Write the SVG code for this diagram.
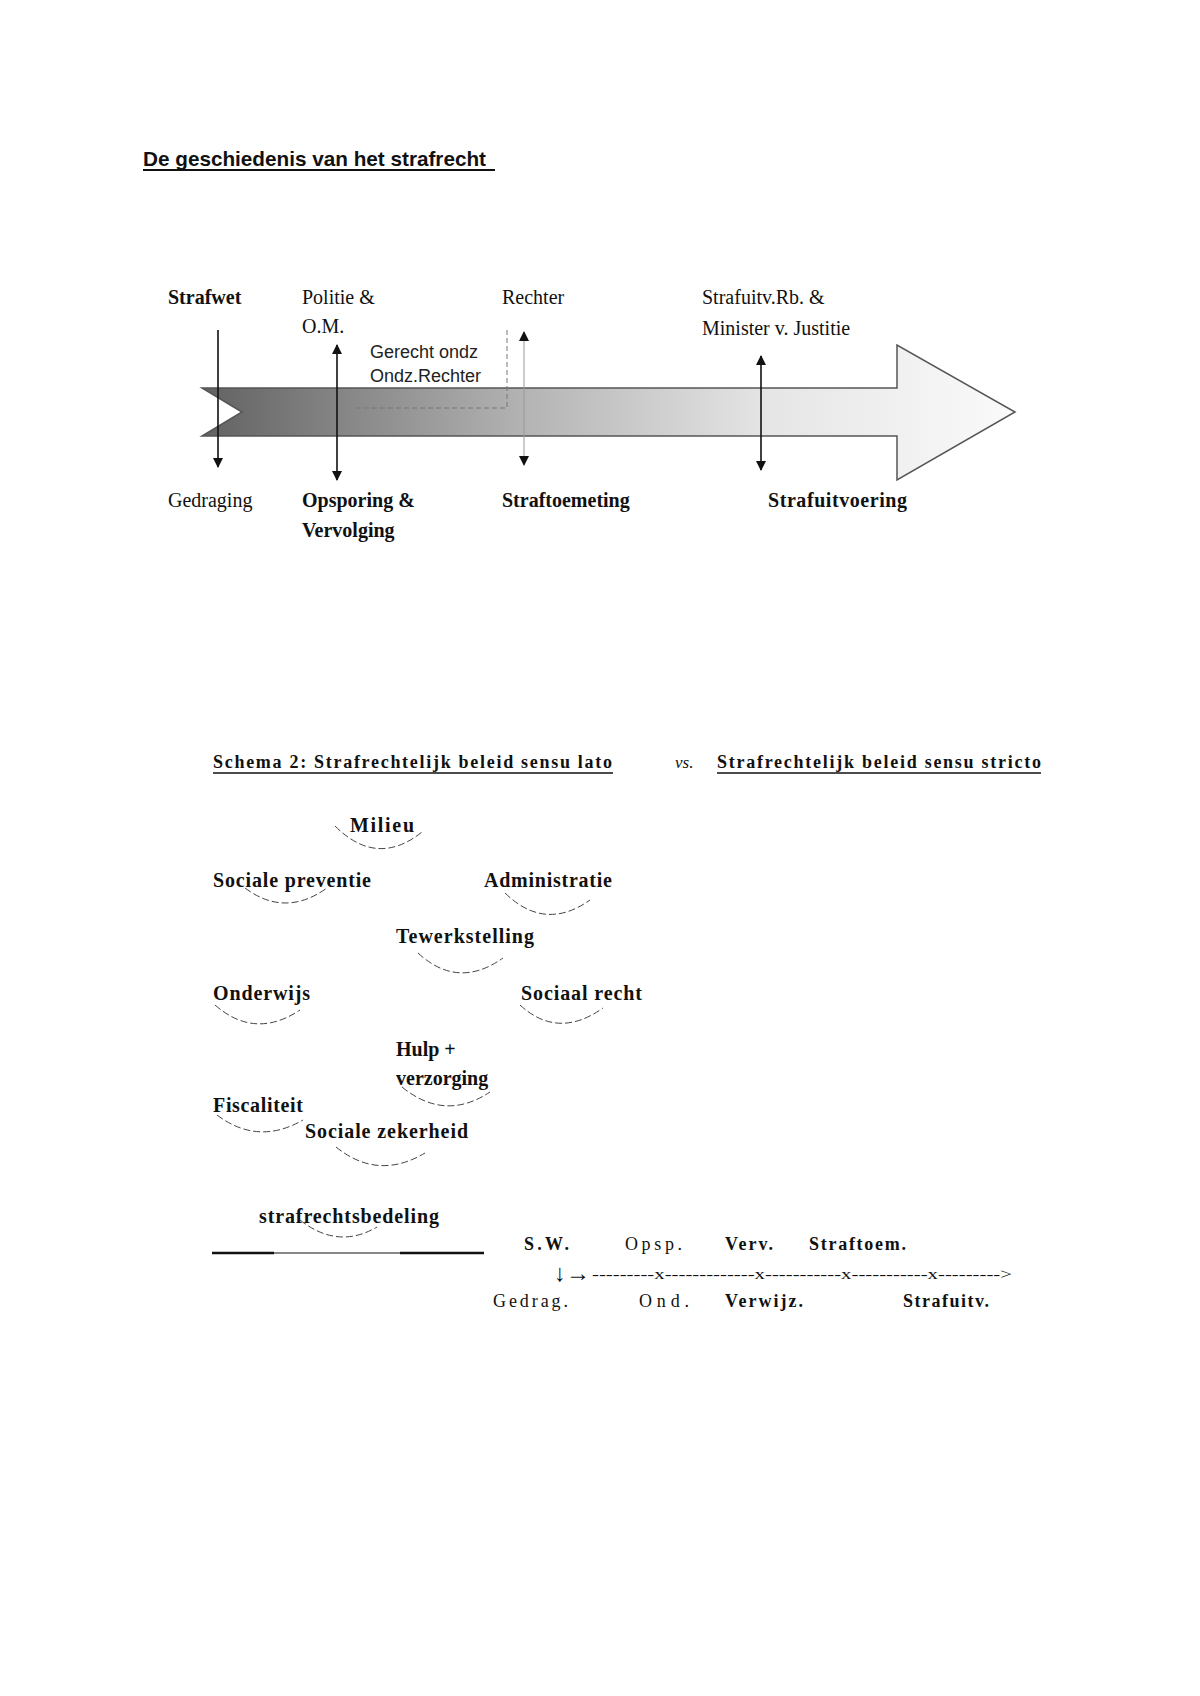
<svg xmlns="http://www.w3.org/2000/svg" width="1200" height="1696" viewBox="0 0 1200 1696">
<style>
.ser{font-family:"Liberation Serif","DejaVu Serif",serif;fill:#111;}
.b{font-weight:bold;}
.sans{font-family:"Liberation Sans",Arial,sans-serif;fill:#222;}
.arc{fill:none;stroke:#444;stroke-width:1;stroke-dasharray:7 3;}
.ln{stroke:#111;stroke-width:1.6;fill:none;}
</style>
<defs>
<linearGradient id="g" x1="202" y1="0" x2="1015" y2="0" gradientUnits="userSpaceOnUse">
<stop offset="0" stop-color="#626262"/>
<stop offset="0.4" stop-color="#b4b4b4"/>
<stop offset="0.7" stop-color="#e6e6e6"/>
<stop offset="1" stop-color="#fafafa"/>
</linearGradient>
<marker id="ah" viewBox="0 0 10 10" refX="9" refY="5" markerWidth="10" markerHeight="10" markerUnits="userSpaceOnUse" orient="auto-start-reverse">
<path d="M0,0 L10,5 L0,10 Z" fill="#111"/>
</marker>
</defs>
<rect width="1200" height="1696" fill="#fff"/>

<g id="title">
<text x="143" y="166" font-family="Liberation Sans,Arial,sans-serif" font-weight="bold" font-size="21" fill="#111" textLength="343" lengthAdjust="spacingAndGlyphs">De geschiedenis van het strafrecht</text>
<line x1="143" y1="170" x2="495" y2="170" stroke="#111" stroke-width="1.8"/>
</g>

<g id="big-arrow">
<path d="M202,388 L897,388 L897,345 L1015,412 L897,480 L897,436 L202,436 L242,412 Z" fill="url(#g)" stroke="#555" stroke-width="1.5"/>
</g>

<g id="connectors">
<line class="ln" x1="218" y1="330" x2="218" y2="467" marker-end="url(#ah)"/>
<line class="ln" x1="337" y1="345" x2="337" y2="480" marker-start="url(#ah)" marker-end="url(#ah)"/>
<line x1="524" y1="332" x2="524" y2="465" stroke="#999" stroke-width="1" marker-start="url(#ah)" marker-end="url(#ah)"/>
<line class="ln" x1="761" y1="356" x2="761" y2="470" marker-start="url(#ah)" marker-end="url(#ah)"/>
<path d="M507,330 L507,408 L357,408" fill="none" stroke="#777" stroke-width="1" stroke-dasharray="5 3"/>
</g>

<g id="top-labels">
<text class="ser b" x="168" y="304" font-size="20">Strafwet</text>
<text class="ser" x="302" y="304" font-size="20">Politie &amp;</text>
<text class="ser" x="302" y="333" font-size="20">O.M.</text>
<text class="ser" x="502" y="304" font-size="20">Rechter</text>
<text class="ser" x="702" y="304" font-size="20">Strafuitv.Rb. &amp;</text>
<text class="ser" x="702" y="335" font-size="20">Minister v. Justitie</text>
<text class="sans" x="370" y="358" font-size="18">Gerecht ondz</text>
<text class="sans" x="370" y="382" font-size="18">Ondz.Rechter</text>
</g>
<g id="bottom-labels">
<text class="ser" x="168" y="507" font-size="20">Gedraging</text>
<text class="ser b" x="302" y="507" font-size="20">Opsporing &amp;</text>
<text class="ser b" x="302" y="537" font-size="20">Vervolging</text>
<text class="ser b" x="502" y="507" font-size="20">Straftoemeting</text>
<text class="ser b" x="768" y="507" font-size="20" textLength="139" lengthAdjust="spacing">Strafuitvoering</text>
</g>

<g id="schema2-header">
<text class="ser b" x="213" y="768" font-size="18" textLength="399" lengthAdjust="spacing">Schema 2: Strafrechtelijk beleid sensu lato</text>
<line x1="213" y1="773" x2="613" y2="773" stroke="#111" stroke-width="1.3"/>
<text class="ser" x="675" y="768" font-size="17" font-style="italic">vs.</text>
<text class="ser b" x="717" y="768" font-size="18" textLength="324" lengthAdjust="spacing">Strafrechtelijk beleid sensu stricto</text>
<line x1="717" y1="773" x2="1041" y2="773" stroke="#111" stroke-width="1.3"/>
</g>

<g id="schema2-items">
<g id="milieu"><text class="ser b" x="350" y="832" font-size="20" textLength="64" lengthAdjust="spacing">Milieu</text><path class="arc" d="M335,826 Q377,868 422,832"/></g>
<g id="sociale-preventie"><text class="ser b" x="213" y="887" font-size="20" textLength="158" lengthAdjust="spacing">Sociale preventie</text><path class="arc" d="M245,888 Q285,918 327,888"/></g>
<g id="administratie"><text class="ser b" x="484" y="887" font-size="20" textLength="128" lengthAdjust="spacing">Administratie</text><path class="arc" d="M505,893 Q545,932 590,900"/></g>
<g id="tewerkstelling"><text class="ser b" x="396" y="943" font-size="20" textLength="138" lengthAdjust="spacing">Tewerkstelling</text><path class="arc" d="M418,953 Q458,990 503,958"/></g>
<g id="onderwijs"><text class="ser b" x="213" y="1000" font-size="20" textLength="97" lengthAdjust="spacing">Onderwijs</text><path class="arc" d="M215,1005 Q255,1040 300,1010"/></g>
<g id="sociaal-recht"><text class="ser b" x="521" y="1000" font-size="20" textLength="121" lengthAdjust="spacing">Sociaal recht</text><path class="arc" d="M520,1005 Q558,1040 603,1008"/></g>
<g id="hulp"><text class="ser b" x="396" y="1056" font-size="20">Hulp +</text><text class="ser b" x="396" y="1085" font-size="20">verzorging</text><path class="arc" d="M402,1087 Q445,1122 490,1092"/></g>
<g id="fiscaliteit"><text class="ser b" x="213" y="1112" font-size="20" textLength="90" lengthAdjust="spacing">Fiscaliteit</text><path class="arc" d="M217,1115 Q258,1146 303,1120"/></g>
<g id="sociale-zekerheid"><text class="ser b" x="305" y="1138" font-size="20" textLength="163" lengthAdjust="spacing">Sociale zekerheid</text><path class="arc" d="M336,1147 Q378,1181 425,1153"/></g>
<g id="strafrechtsbedeling"><text class="ser b" x="259" y="1223" font-size="20" textLength="180" lengthAdjust="spacing">strafrechtsbedeling</text><path class="arc" d="M300,1220 Q338,1250 377,1227"/>
<line x1="212" y1="1253" x2="274" y2="1253" stroke="#111" stroke-width="2.4"/>
<line x1="274" y1="1253" x2="400" y2="1253" stroke="#111" stroke-width="1.2"/>
<line x1="400" y1="1253" x2="484" y2="1253" stroke="#111" stroke-width="2.4"/></g>
</g>

<g id="timeline">
<text class="ser b" x="524" y="1250" font-size="18" textLength="45" lengthAdjust="spacing">S.W.</text>
<text class="ser" x="625" y="1250" font-size="18" textLength="57" lengthAdjust="spacing">Opsp.</text>
<text class="ser b" x="725" y="1250" font-size="18" textLength="48" lengthAdjust="spacing">Verv.</text>
<text class="ser b" x="809" y="1250" font-size="18" textLength="97" lengthAdjust="spacing">Straftoem.</text>
<text class="ser" x="554" y="1281" font-size="24">↓→</text>
<text class="ser" x="592" y="1279" font-size="15" textLength="420" lengthAdjust="spacingAndGlyphs">---------x-------------x-----------x-----------x---------&gt;</text>
<text class="ser" x="493" y="1307" font-size="18" textLength="75" lengthAdjust="spacing">Gedrag.</text>
<text class="ser" x="639" y="1307" font-size="18" textLength="50" lengthAdjust="spacing">Ond.</text>
<text class="ser b" x="725" y="1307" font-size="18" textLength="78" lengthAdjust="spacing">Verwijz.</text>
<text class="ser b" x="903" y="1307" font-size="18" textLength="86" lengthAdjust="spacing">Strafuitv.</text>
</g>
</svg>
